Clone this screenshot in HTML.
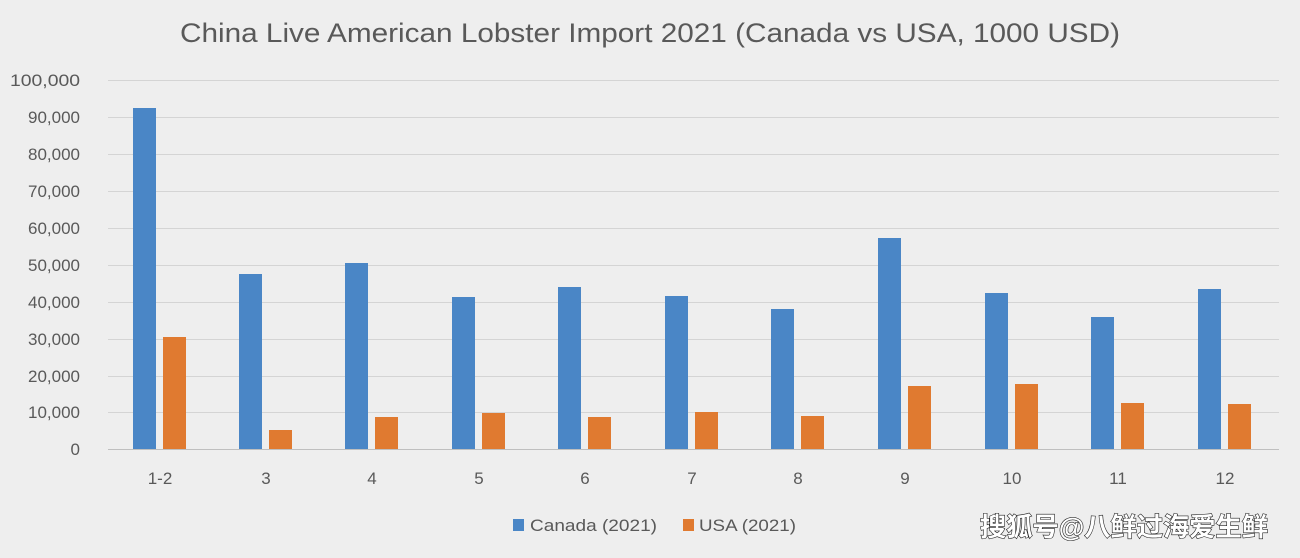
<!DOCTYPE html>
<html><head><meta charset="utf-8"><style>
html,body{margin:0;padding:0;background:#eeeeee;}
svg{display:block;font-family:"Liberation Sans","Noto Sans CJK SC",sans-serif;}
</style></head><body>
<svg width="1300" height="558" viewBox="0 0 1300 558">
<rect width="1300" height="558" fill="#eeeeee"/>
<text x="180" y="42" font-size="27" fill="#595959" textLength="940" lengthAdjust="spacingAndGlyphs">China Live American Lobster Import 2021 (Canada vs USA, 1000 USD)</text>
<g stroke="#d4d4d4" stroke-width="1">
<line x1="108" x2="1279" y1="80.5" y2="80.5"/><line x1="108" x2="1279" y1="117.5" y2="117.5"/>
<line x1="108" x2="1279" y1="154.5" y2="154.5"/><line x1="108" x2="1279" y1="191.5" y2="191.5"/>
<line x1="108" x2="1279" y1="228.5" y2="228.5"/><line x1="108" x2="1279" y1="265.5" y2="265.5"/>
<line x1="108" x2="1279" y1="302.5" y2="302.5"/><line x1="108" x2="1279" y1="339.5" y2="339.5"/>
<line x1="108" x2="1279" y1="376.5" y2="376.5"/><line x1="108" x2="1279" y1="412.5" y2="412.5"/>
</g>
<line x1="108" x2="1279" y1="449.5" y2="449.5" stroke="#bfbfbf"/>
<g font-size="17" fill="#595959" text-anchor="end">
<text x="80" y="86" textLength="70" lengthAdjust="spacingAndGlyphs">100,000</text><text x="80" y="123">90,000</text><text x="80" y="160">80,000</text>
<text x="80" y="197">70,000</text><text x="80" y="234">60,000</text><text x="80" y="271">50,000</text>
<text x="80" y="308">40,000</text><text x="80" y="345">30,000</text><text x="80" y="382">20,000</text>
<text x="80" y="418">10,000</text><text x="80" y="455">0</text>
</g>
<g fill="#4a86c6">
<rect x="133" y="108" width="23" height="341"/>
<rect x="239" y="274" width="23" height="175"/>
<rect x="345" y="263" width="23" height="186"/>
<rect x="452" y="297" width="23" height="152"/>
<rect x="558" y="287" width="23" height="162"/>
<rect x="665" y="296" width="23" height="153"/>
<rect x="771" y="309" width="23" height="140"/>
<rect x="878" y="238" width="23" height="211"/>
<rect x="985" y="293" width="23" height="156"/>
<rect x="1091" y="317" width="23" height="132"/>
<rect x="1198" y="289" width="23" height="160"/>
</g>
<g fill="#e07a30">
<rect x="163" y="337" width="23" height="112"/>
<rect x="269" y="430" width="23" height="19"/>
<rect x="375" y="417" width="23" height="32"/>
<rect x="482" y="413" width="23" height="36"/>
<rect x="588" y="417" width="23" height="32"/>
<rect x="695" y="412" width="23" height="37"/>
<rect x="801" y="416" width="23" height="33"/>
<rect x="908" y="386" width="23" height="63"/>
<rect x="1015" y="384" width="23" height="65"/>
<rect x="1121" y="403" width="23" height="46"/>
<rect x="1228" y="404" width="23" height="45"/>
</g>
<g font-size="17" fill="#595959" text-anchor="middle">
<text x="160" y="484">1-2</text><text x="266" y="484">3</text><text x="372" y="484">4</text>
<text x="479" y="484">5</text><text x="585" y="484">6</text><text x="692" y="484">7</text>
<text x="798" y="484">8</text><text x="905" y="484">9</text><text x="1012" y="484">10</text>
<text x="1118" y="484">11</text><text x="1225" y="484">12</text>
</g>
<rect x="513" y="519" width="11" height="12" fill="#4a86c6"/>
<text x="530" y="531" font-size="17" fill="#595959" textLength="127" lengthAdjust="spacingAndGlyphs">Canada (2021)</text>
<rect x="683" y="519" width="11" height="12" fill="#e07a30"/>
<text x="699" y="531" font-size="17" fill="#595959" textLength="97" lengthAdjust="spacingAndGlyphs">USA (2021)</text>
<text x="980" y="536" font-size="26" font-weight="bold" fill="#ffffff" stroke="#222" stroke-width="1.2" paint-order="stroke" textLength="288" lengthAdjust="spacingAndGlyphs">搜狐号@八鲜过海爱生鲜</text>
</svg>
</body></html>
